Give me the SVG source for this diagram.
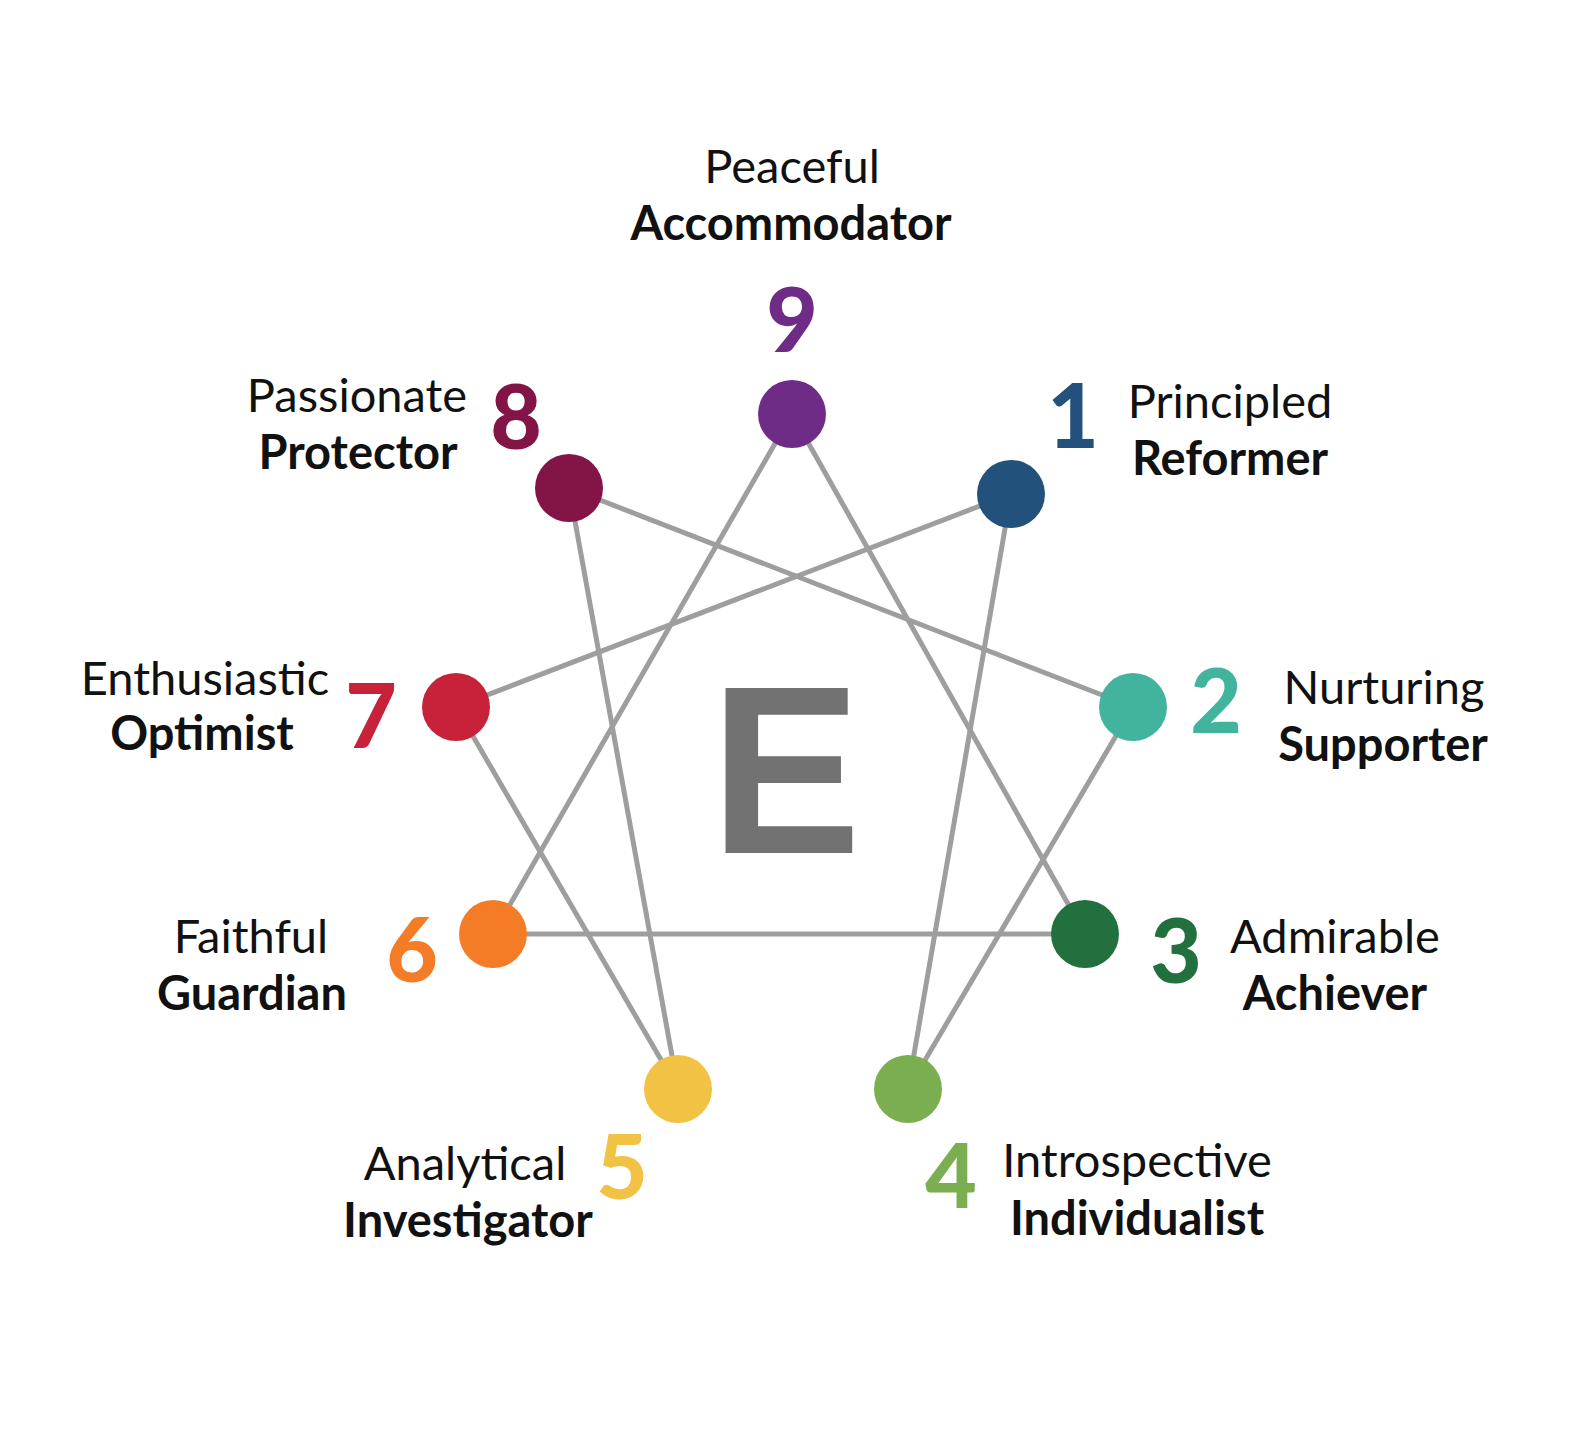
<svg xmlns="http://www.w3.org/2000/svg" width="1593" height="1440" viewBox="0 0 1593 1440">
<style>
.bg{fill:#ffffff}
.edge{stroke:#9e9e9e;stroke-width:5;fill:none}
.num{font-family:Lato,"Liberation Sans",sans-serif;font-weight:900;font-size:89px;text-anchor:middle}
.t1{font-family:Lato,"Liberation Sans",sans-serif;font-weight:400;font-size:47px;fill:#111;text-anchor:middle}
.t2{font-family:Lato,"Liberation Sans",sans-serif;font-weight:700;font-size:47px;fill:#111;text-anchor:middle}
.big{font-family:"Liberation Sans",Arial,sans-serif;font-weight:700;font-size:240px;fill:#727272}
</style>
<rect class="bg" x="0" y="0" width="1593" height="1440"/>
<text class="big" transform="translate(710.5,853) scale(0.94,1)" x="0" y="0">E</text>
<g id="connectors">
<line class="edge" x1="1011" y1="494" x2="908" y2="1089"/>
<line class="edge" x1="908" y1="1089" x2="1133" y2="707"/>
<line class="edge" x1="1133" y1="707" x2="569" y2="488"/>
<line class="edge" x1="569" y1="488" x2="678" y2="1089"/>
<line class="edge" x1="678" y1="1089" x2="456" y2="707"/>
<line class="edge" x1="456" y1="707" x2="1011" y2="494"/>
<line class="edge" x1="1085" y1="934" x2="493" y2="934"/>
<line class="edge" x1="493" y1="934" x2="792" y2="414"/>
<line class="edge" x1="792" y1="414" x2="1085" y2="934"/>
</g>
<g id="node9">
<circle cx="792" cy="414" r="34" fill="#6f2c86"/>
<text class="num" x="792" y="352" fill="#6f2c86">9</text>
<text class="t1" x="792" y="183">Peaceful</text>
<text class="t2" x="791" y="240">Accommodator</text>
</g>
<g id="node1">
<circle cx="1011" cy="494" r="34" fill="#22527b"/>
<text class="num" x="1073" y="448" fill="#22527b">1</text>
<text class="t1" x="1230" y="418">Principled</text>
<text class="t2" x="1230" y="475">Reformer</text>
</g>
<g id="node2">
<circle cx="1133" cy="707" r="34" fill="#42b39d"/>
<text class="num" x="1216" y="733" fill="#42b39d">2</text>
<text class="t1" x="1384" y="704">Nurturing</text>
<text class="t2" x="1383" y="761">Supporter</text>
</g>
<g id="node3">
<circle cx="1085" cy="934" r="34" fill="#21703e"/>
<text class="num" x="1176" y="983" fill="#21703e">3</text>
<text class="t1" x="1335" y="953">Admirable</text>
<text class="t2" x="1335" y="1010">Achiever</text>
</g>
<g id="node4">
<circle cx="908" cy="1089" r="34" fill="#7aae51"/>
<text class="num" x="951" y="1208" fill="#7aae51">4</text>
<text class="t1" x="1137" y="1177">Introspective</text>
<text class="t2" x="1137" y="1235">Individualist</text>
</g>
<g id="node5">
<circle cx="678" cy="1089" r="34" fill="#f2c244"/>
<text class="num" x="622" y="1199" fill="#f2c244">5</text>
<text class="t1" x="465" y="1180">Analytical</text>
<text class="t2" x="468" y="1237">Investigator</text>
</g>
<g id="node6">
<circle cx="493" cy="934" r="34" fill="#f47c27"/>
<text class="num" x="412" y="982" fill="#f47c27">6</text>
<text class="t1" x="251" y="953">Faithful</text>
<text class="t2" x="252" y="1010">Guardian</text>
</g>
<g id="node7">
<circle cx="456" cy="707" r="34" fill="#c8223a"/>
<text class="num" x="371" y="748" fill="#c8223a">7</text>
<text class="t1" x="205" y="695">Enthusiastic</text>
<text class="t2" x="202" y="750">Optimist</text>
</g>
<g id="node8">
<circle cx="569" cy="488" r="34" fill="#831446"/>
<text class="num" x="516" y="449" fill="#831446">8</text>
<text class="t1" x="357" y="412">Passionate</text>
<text class="t2" x="358" y="469">Protector</text>
</g>
</svg>
